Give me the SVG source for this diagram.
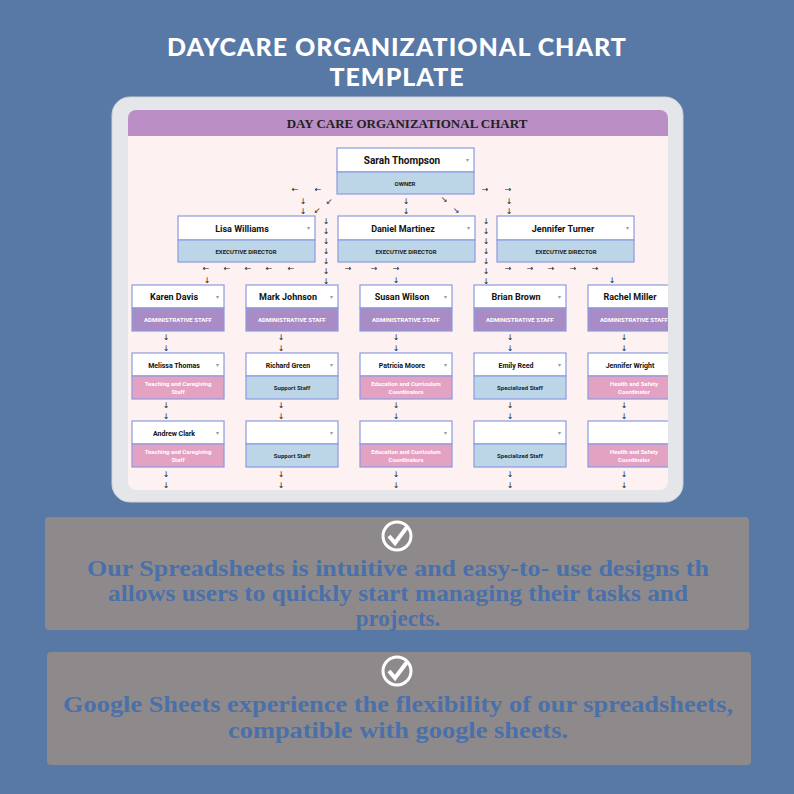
<svg xmlns="http://www.w3.org/2000/svg" width="794" height="794" viewBox="0 0 794 794">
<defs><clipPath id="scr"><rect x="128" y="110" width="540" height="380" rx="8"/></clipPath></defs>
<style>
.t{font-family:Lato,"Liberation Sans",sans-serif;font-weight:900;fill:#fff;font-size:25px;text-anchor:middle;letter-spacing:1px}
.box{stroke:#8a9be0;stroke-width:1.2}
.nm{font-family:Roboto,"Liberation Sans",sans-serif;font-weight:bold;font-size:9px;text-anchor:middle;fill:#111}
.nmb{font-size:10px}
.sm{font-size:7px}
.rl{font-family:Roboto,"Liberation Sans",sans-serif;font-weight:bold;font-size:6px;text-anchor:middle}
.w{fill:#fff}.k{fill:#222}
.ar{font-family:"DejaVu Sans",sans-serif;font-size:8px;fill:#222;text-anchor:middle}
.dd{font-family:"DejaVu Sans",sans-serif;font-size:6px;fill:#999}
.p{font-family:"Liberation Serif",serif;font-weight:bold;font-size:23px;fill:#4a70aa;text-anchor:middle}
</style>
<rect width="794" height="794" fill="#5879a5"/>
<text class="t" x="397" y="56">DAYCARE ORGANIZATIONAL CHART</text>
<text class="t" x="397" y="86">TEMPLATE</text>
<rect x="112" y="97" width="571" height="405" rx="18" fill="#e4e6ea" stroke="#d0d3d8"/>
<g clip-path="url(#scr)">
<rect x="128" y="110" width="540" height="380" fill="#fdf1f1"/>
<rect x="128" y="110" width="540" height="26" fill="#bb8fc6"/>
<text x="407" y="128" font-family="'Liberation Serif',serif" font-weight="bold" font-size="13" text-anchor="middle" fill="#222">DAY CARE ORGANIZATIONAL CHART</text>

<g id="owner"><rect class="box" x="337" y="148" width="137" height="24" fill="#fff"/><rect class="box" x="337" y="172" width="137" height="22" fill="#bcd6e8"/><text class="nm nmb" x="402" y="164">Sarah Thompson</text><text class="dd" x="466" y="162">▾</text><text class="rl k" x="405" y="186">OWNER</text></g>

<g id="exec1"><rect class="box" x="178" y="216" width="137" height="24" fill="#fff"/><rect class="box" x="178" y="240" width="137" height="22" fill="#bcd6e8"/><text class="nm" x="242" y="232">Lisa Williams</text><text class="dd" x="307" y="230">▾</text><text class="rl k" x="246" y="254">EXECUTIVE DIRECTOR</text></g>
<g id="exec2"><rect class="box" x="338" y="216" width="137" height="24" fill="#fff"/><rect class="box" x="338" y="240" width="137" height="22" fill="#bcd6e8"/><text class="nm" x="403" y="232">Daniel Martinez</text><text class="dd" x="467" y="230">▾</text><text class="rl k" x="406" y="254">EXECUTIVE DIRECTOR</text></g>
<g id="exec3"><rect class="box" x="497" y="216" width="137" height="24" fill="#fff"/><rect class="box" x="497" y="240" width="137" height="22" fill="#bcd6e8"/><text class="nm" x="563" y="232">Jennifer Turner</text><text class="dd" x="626" y="230">▾</text><text class="rl k" x="566" y="254">EXECUTIVE DIRECTOR</text></g>

<g id="r1c1"><rect class="box" x="132" y="285" width="92" height="23" fill="#fff"/><rect class="box" x="132" y="308" width="92" height="23" fill="#a98cc6"/><text class="nm" x="174" y="300">Karen Davis</text><text class="dd" x="216" y="299">▾</text><text class="rl w" x="178" y="322">ADMINISTRATIVE STAFF</text></g>
<g id="r1c2"><rect class="box" x="246" y="285" width="92" height="23" fill="#fff"/><rect class="box" x="246" y="308" width="92" height="23" fill="#a98cc6"/><text class="nm" x="288" y="300">Mark Johnson</text><text class="dd" x="330" y="299">▾</text><text class="rl w" x="292" y="322">ADMINISTRATIVE STAFF</text></g>
<g id="r1c3"><rect class="box" x="360" y="285" width="92" height="23" fill="#fff"/><rect class="box" x="360" y="308" width="92" height="23" fill="#a98cc6"/><text class="nm" x="402" y="300">Susan Wilson</text><text class="dd" x="444" y="299">▾</text><text class="rl w" x="406" y="322">ADMINISTRATIVE STAFF</text></g>
<g id="r1c4"><rect class="box" x="474" y="285" width="92" height="23" fill="#fff"/><rect class="box" x="474" y="308" width="92" height="23" fill="#a98cc6"/><text class="nm" x="516" y="300">Brian Brown</text><text class="dd" x="558" y="299">▾</text><text class="rl w" x="520" y="322">ADMINISTRATIVE STAFF</text></g>
<g id="r1c5"><rect class="box" x="588" y="285" width="92" height="23" fill="#fff"/><rect class="box" x="588" y="308" width="92" height="23" fill="#a98cc6"/><text class="nm" x="630" y="300">Rachel Miller</text><text class="rl w" x="634" y="322">ADMINISTRATIVE STAFF</text></g>

<g id="r2c1"><rect class="box" x="132" y="353" width="92" height="23" fill="#fff"/><rect class="box" x="132" y="376" width="92" height="23" fill="#e4a2c2"/><text class="nm sm" x="174" y="368">Melissa Thomas</text><text class="dd" x="216" y="367">▾</text><text class="rl w" x="178" y="386">Teaching and Caregiving</text><text class="rl w" x="178" y="394">Staff</text></g>
<g id="r2c2"><rect class="box" x="246" y="353" width="92" height="23" fill="#fff"/><rect class="box" x="246" y="376" width="92" height="23" fill="#bcd6e8"/><text class="nm sm" x="288" y="368">Richard Green</text><text class="dd" x="330" y="367">▾</text><text class="rl k" x="292" y="390">Support Staff</text></g>
<g id="r2c3"><rect class="box" x="360" y="353" width="92" height="23" fill="#fff"/><rect class="box" x="360" y="376" width="92" height="23" fill="#e4a2c2"/><text class="nm sm" x="402" y="368">Patricia Moore</text><text class="dd" x="444" y="367">▾</text><text class="rl w" x="406" y="386">Education and Curriculum</text><text class="rl w" x="406" y="394">Coordinators</text></g>
<g id="r2c4"><rect class="box" x="474" y="353" width="92" height="23" fill="#fff"/><rect class="box" x="474" y="376" width="92" height="23" fill="#bcd6e8"/><text class="nm sm" x="516" y="368">Emily Reed</text><text class="dd" x="558" y="367">▾</text><text class="rl k" x="520" y="390">Specialized Staff</text></g>
<g id="r2c5"><rect class="box" x="588" y="353" width="92" height="23" fill="#fff"/><rect class="box" x="588" y="376" width="92" height="23" fill="#e4a2c2"/><text class="nm sm" x="630" y="368">Jennifer Wright</text><text class="rl w" x="634" y="386">Health and Safety</text><text class="rl w" x="634" y="394">Coordinator</text></g>

<g id="r3c1"><rect class="box" x="132" y="421" width="92" height="23" fill="#fff"/><rect class="box" x="132" y="444" width="92" height="23" fill="#e4a2c2"/><text class="nm sm" x="174" y="436">Andrew Clark</text><text class="dd" x="216" y="435">▾</text><text class="rl w" x="178" y="454">Teaching and Caregiving</text><text class="rl w" x="178" y="462">Staff</text></g>
<g id="r3c2"><rect class="box" x="246" y="421" width="92" height="23" fill="#fff"/><rect class="box" x="246" y="444" width="92" height="23" fill="#bcd6e8"/><text class="dd" x="330" y="435">▾</text><text class="rl k" x="292" y="458">Support Staff</text></g>
<g id="r3c3"><rect class="box" x="360" y="421" width="92" height="23" fill="#fff"/><rect class="box" x="360" y="444" width="92" height="23" fill="#e4a2c2"/><text class="dd" x="444" y="435">▾</text><text class="rl w" x="406" y="454">Education and Curriculum</text><text class="rl w" x="406" y="462">Coordinators</text></g>
<g id="r3c4"><rect class="box" x="474" y="421" width="92" height="23" fill="#fff"/><rect class="box" x="474" y="444" width="92" height="23" fill="#bcd6e8"/><text class="dd" x="558" y="435">▾</text><text class="rl k" x="520" y="458">Specialized Staff</text></g>
<g id="r3c5"><rect class="box" x="588" y="421" width="92" height="23" fill="#fff"/><rect class="box" x="588" y="444" width="92" height="23" fill="#e4a2c2"/><text class="rl w" x="634" y="454">Health and Safety</text><text class="rl w" x="634" y="462">Coordinator</text></g>

<g id="connectors" class="ar">
<text x="295" y="192">←</text><text x="318" y="192">←</text><text x="485" y="192">→</text><text x="508" y="192">→</text>
<text x="303" y="204">↓</text><text x="303" y="214">↓</text><text x="509" y="204">↓</text><text x="509" y="214">↓</text>
<text x="329" y="204">↙</text><text x="317" y="213">↙</text><text x="406" y="204">↓</text><text x="406" y="214">↓</text>
<text x="444" y="202">↘</text><text x="456" y="213">↘</text>
<text x="326" y="224">↓</text><text x="326" y="234">↓</text><text x="326" y="244">↓</text><text x="326" y="254">↓</text><text x="326" y="264">↓</text><text x="326" y="274">↓</text><text x="326" y="284">↓</text>
<text x="486" y="224">↓</text><text x="486" y="234">↓</text><text x="486" y="244">↓</text><text x="486" y="254">↓</text><text x="486" y="264">↓</text><text x="486" y="274">↓</text><text x="486" y="284">↓</text>
<text x="206" y="271">←</text><text x="227" y="271">←</text><text x="248" y="271">←</text><text x="269" y="271">←</text><text x="291" y="271">←</text>
<text x="348" y="271">→</text><text x="374" y="271">→</text><text x="396" y="271">→</text>
<text x="508" y="271">→</text><text x="530" y="271">→</text><text x="551" y="271">→</text><text x="573" y="271">→</text><text x="595" y="271">→</text>
<text x="207" y="283">↓</text><text x="396" y="283">↓</text><text x="612" y="283">↓</text>
<text x="166" y="340">↓</text><text x="166" y="351">↓</text><text x="281" y="340">↓</text><text x="281" y="351">↓</text><text x="396" y="340">↓</text><text x="396" y="351">↓</text><text x="510" y="340">↓</text><text x="510" y="351">↓</text><text x="624" y="340">↓</text><text x="624" y="351">↓</text>
<text x="166" y="408">↓</text><text x="166" y="419">↓</text><text x="281" y="408">↓</text><text x="281" y="419">↓</text><text x="396" y="408">↓</text><text x="396" y="419">↓</text><text x="510" y="408">↓</text><text x="510" y="419">↓</text><text x="624" y="408">↓</text><text x="624" y="419">↓</text>
<text x="166" y="477">↓</text><text x="166" y="488">↓</text><text x="281" y="477">↓</text><text x="281" y="488">↓</text><text x="396" y="477">↓</text><text x="396" y="488">↓</text><text x="510" y="477">↓</text><text x="510" y="488">↓</text><text x="624" y="477">↓</text><text x="624" y="488">↓</text>
</g>
</g>

<rect x="45" y="517" width="704" height="113" rx="4" fill="#8e8a8c"/>
<circle cx="397" cy="536" r="14" fill="none" stroke="#fff" stroke-width="3"/>
<path d="M389 536 l6 7 l12 -16" fill="none" stroke="#fff" stroke-width="4"/>
<text class="p" x="398" y="576" textLength="622" lengthAdjust="spacingAndGlyphs">Our Spreadsheets is intuitive and easy-to- use designs th</text>
<text class="p" x="398" y="601" textLength="580" lengthAdjust="spacingAndGlyphs">allows users to quickly start managing their tasks and</text>
<text class="p" x="398" y="626">projects.</text>

<rect x="47" y="652" width="704" height="113" rx="4" fill="#8e8a8c"/>
<circle cx="397" cy="671" r="14" fill="none" stroke="#fff" stroke-width="3"/>
<path d="M389 671 l6 7 l12 -16" fill="none" stroke="#fff" stroke-width="4"/>
<text class="p" x="398" y="712" textLength="670" lengthAdjust="spacingAndGlyphs">Google Sheets experience the flexibility of our spreadsheets,</text>
<text class="p" x="398" y="738" textLength="340" lengthAdjust="spacingAndGlyphs">compatible with google sheets.</text>
</svg>
